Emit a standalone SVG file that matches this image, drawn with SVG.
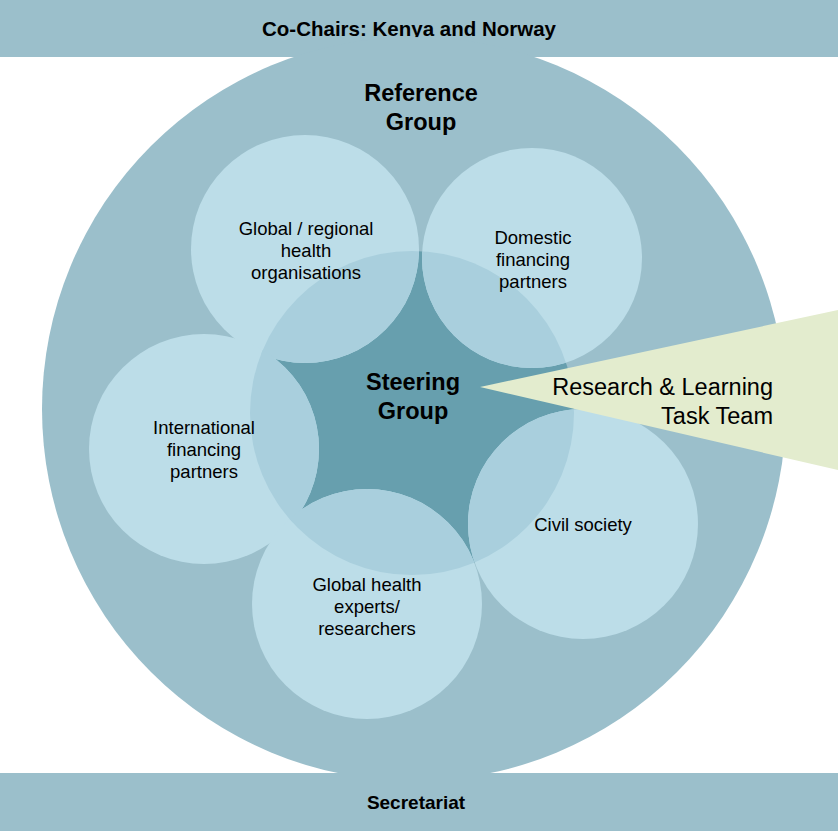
<svg xmlns="http://www.w3.org/2000/svg" width="838" height="831" viewBox="0 0 838 831">
<style>
text{font-family:"Liberation Sans",Arial,sans-serif;fill:#000;text-anchor:middle}
.b{font-weight:bold;font-size:20.5px}
.h{font-weight:bold;font-size:23.5px}
.n{font-size:18.5px}
.s{fill:#bcdde8}
.o{fill:#a9cfdd}
</style>
<defs>
<clipPath id="sc"><circle cx="412" cy="413" r="162"/></clipPath>
</defs>
<rect width="838" height="831" fill="#fff"/>
<g id="cochairs"><rect x="0" y="0" width="838" height="57" fill="#9bbfcb"/><text class="b" x="409" y="36">Co-Chairs: Kenya and Norway</text></g>
<g id="reference"><circle cx="414" cy="409" r="372" fill="#9bbfcb"/><text class="h" x="421" y="101">Reference</text><text class="h" x="421" y="130">Group</text></g>
<g id="secretariat"><rect x="0" y="773" width="838" height="58" fill="#9bbfcb"/><text x="416" y="809" style="font-weight:bold;font-size:19px">Secretariat</text></g>
<g id="steering"><circle cx="412" cy="413" r="162" fill="#679fae"/></g>
<g id="members">
<circle class="s" cx="305" cy="249" r="114"/>
<circle class="s" cx="532" cy="258" r="110"/>
<circle class="s" cx="204" cy="449" r="115"/>
<circle class="s" cx="583" cy="524" r="115"/>
<circle class="s" cx="367" cy="604" r="115"/>
<g clip-path="url(#sc)">
<circle class="o" cx="305" cy="249" r="114"/>
<circle class="o" cx="532" cy="258" r="110"/>
<circle class="o" cx="204" cy="449" r="115"/>
<circle class="o" cx="583" cy="524" r="115"/>
<circle class="o" cx="367" cy="604" r="115"/>
</g>
</g>
<g id="n1"><text class="n" x="306" y="235">Global / regional</text><text class="n" x="306" y="257">health</text><text class="n" x="306" y="279">organisations</text></g>
<g id="n2"><text class="n" x="533" y="244">Domestic</text><text class="n" x="533" y="266">financing</text><text class="n" x="533" y="288">partners</text></g>
<g id="n3"><text class="n" x="204" y="434">International</text><text class="n" x="204" y="456">financing</text><text class="n" x="204" y="478">partners</text></g>
<g id="n4"><text class="n" x="583" y="531">Civil society</text></g>
<g id="n5"><text class="n" x="367" y="591">Global health</text><text class="n" x="367" y="613">experts/</text><text class="n" x="367" y="635">researchers</text></g>
<g id="steeringlabel"><text class="h" x="413" y="390">Steering</text><text class="h" x="413" y="419">Group</text></g>
<g id="taskteam"><polygon points="480,387 838,310 838,470" fill="#e3ecce"/><text x="773" y="395" style="font-size:23.5px;text-anchor:end">Research &amp; Learning</text><text x="773" y="424" style="font-size:23.5px;text-anchor:end">Task Team</text></g>
<g id="connectors"/>
</svg>
